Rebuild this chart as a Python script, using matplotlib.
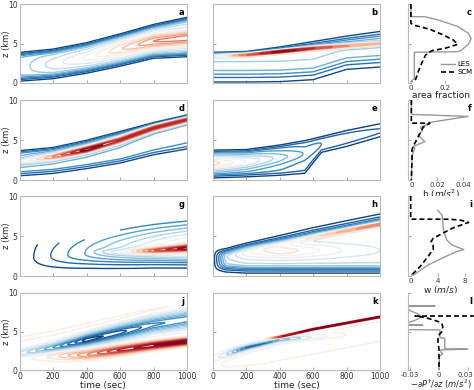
import numpy as np
import matplotlib
matplotlib.use("Agg")
import matplotlib.pyplot as plt
import matplotlib.transforms as mtransforms

# ---- time / height grid for the contour panels ----
t = np.linspace(0, 1000, 251)
z = np.linspace(0, 10, 401)
TT, ZZ = np.meshgrid(t, z)

# knots (time in s, heights in km, amplitudes relative)
tk = [0, 200, 400, 600, 800, 1000]

# a: LES area fraction
a_bot = [0.55, 0.9, 1.6, 2.5, 3.5, 3.7]
a_top = [3.6, 4.0, 4.8, 5.9, 7.1, 8.0]
a_core = [2.0, 2.4, 3.2, 4.3, 5.3, 5.7]
a_base = [0.35, 0.4, 0.42, 0.45, 0.45, 0.45]
a_peak = [0.0, 0.1, 0.2, 0.35, 0.5, 0.55]

# b: SCM area fraction
b_bot = [1.0, 1.0, 1.05, 1.3, 2.6, 2.9]
b_top = [3.75, 3.8, 4.3, 4.9, 5.5, 6.0]
b_topw = [0.08, 0.1, 0.15, 0.2, 0.25, 0.3]
b_core = [3.4, 3.6, 4.0, 4.4, 4.7, 5.0]
b_base = [0.3, 0.3, 0.3, 0.3, 0.3, 0.3]
b_peak = [0.1, 0.5, 0.7, 0.55, 0.4, 0.35]

# d: LES buoyancy
d_bot = [0.8, 1.1, 1.7, 2.4, 3.4, 4.1]
d_top = [3.5, 3.9, 4.8, 5.9, 7.0, 7.9]
d_core = [2.3, 2.9, 3.8, 5.0, 6.5, 7.6]
d_base = [0.25, 0.25, 0.25, 0.25, 0.22, 0.2]
d_peak = [0.2, 0.5, 0.75, 0.65, 0.7, 0.75]

# e: SCM buoyancy
tk_e = [0, 200, 400, 550, 650, 800, 1000]
e_bot = [0.55, 0.65, 0.8, 1.0, 3.6, 4.3, 5.5]
e_top = [3.5, 3.6, 4.2, 4.8, 5.3, 6.1, 7.0]
e_core = [2.1, 2.3, 2.8, 3.3, 4.5, 5.2, 6.0]
e_base = [0.3, 0.25, 0.2, 0.15, 0.12, 0.1, 0.08]
e_peak = [0.5, 0.35, 0.2, 0.12, 0.08, 0.06, 0.05]

# g: LES w (field cut above g_cut)
tk_cut = [0, 100, 200, 300, 400, 500, 700, 1000]
g_cut = [3.9, 3.95, 4.1, 4.25, 4.6, 5.1, 6.4, 7.4]
g_amp = [0.0, 0.2, 0.4, 0.6, 0.8, 1.0]
g_mid = [2.2, 2.5, 2.8, 3.0, 3.2, 3.3]
g_core = [3.0, 3.0, 3.0, 3.0, 3.2, 3.5]
g_peak = [0.0, 0.0, 0.0, 0.2, 0.6, 0.7]

# h: SCM w
tk_h = [0, 80, 200, 400, 600, 800, 1000]
h_amp = [0.0, 0.9, 1.0, 1.0, 1.0, 1.0, 1.0]
h_bot = [1.0, 1.0, 0.9, 0.9, 0.9, 0.9, 0.9]
h_top = [3.0, 3.0, 3.6, 4.5, 5.4, 6.2, 7.0]
h_topw = [0.2, 0.2, 0.22, 0.26, 0.3, 0.33, 0.35]
h_mid = [0.0, 0.1, 0.2, 0.3, 0.2, 0.1, 0.05]
h_up = [0.0, 0.0, 0.0, 0.1, 0.4, 0.6, 0.7]

# j: LES pressure gradient (negative band above, positive band below)
j_nc = [2.1, 2.9, 3.9, 4.9, 5.9, 6.6]
j_nw = [0.5, 0.6, 0.75, 0.9, 1.0, 1.1]
j_na = [0.3, 0.6, 1.0, 0.9, 0.7, 0.65]
j_pc = [1.8, 1.8, 2.0, 2.6, 3.2, 3.7]
j_pw = [0.6, 0.6, 0.6, 0.55, 0.5, 0.45]
j_pa = [0.05, 0.2, 0.5, 0.8, 0.95, 1.0]

# k: SCM pressure gradient
tk_k = [0, 100, 200, 300, 400, 600, 800, 1000]
k_nc = [1.4, 2.2, 2.9, 3.4, 3.9, 4.3, 4.5, 4.7]
k_nw = [0.5, 0.45, 0.35, 0.3, 0.3, 0.35, 0.4, 0.4]
k_na = [0.15, 0.4, 0.9, 0.9, 0.6, 0.25, 0.12, 0.05]
k_pc = [4.0, 4.0, 4.0, 4.0, 4.3, 5.3, 6.1, 6.9]
k_pa = [0.0, 0.0, 0.0, 0.0, 0.9, 1.0, 1.0, 1.0]
k_bc = [0.8, 1.0, 1.4, 1.8, 2.4, 3.3, 4.2, 5.0]
k_ba = [0.05, 0.08, 0.1, 0.12, 0.15, 0.18, 0.2, 0.2]

# ---- profiles at one time (right column) ----
c_les_x = [0, 0, 0.082, 0.161, 0.278, 0.337, 0.353, 0.341, 0.298, 0.278, 0.02, 0.02, 0.0]
c_les_z = [10, 8.4, 8.39, 7.97, 7.13, 6.29, 5.65, 5.02, 4.18, 3.97, 3.88, 0.59, 0.17]
c_scm_x = [0, 0, 0.014, 0.112, 0.19, 0.249, 0.275, 0.2, 0.122, 0.086, 0.063, 0.043, 0.028, 0.008]
c_scm_z = [10, 7.56, 7.34, 6.79, 6.08, 5.44, 4.89, 4.39, 4.09, 3.54, 2.49, 1.43, 0.47, 0.13]

f_les_x = [0, 0, 0.044, 0.0144, 0.0105, 0.007, 0.0087, 0.0053, 0.0105, 0.0014, 0.0027, 0.0005, 0.0]
f_les_z = [10, 8.2, 7.95, 7.2, 6.8, 6.6, 6.2, 5.6, 4.8, 4.2, 4.0, 3.0, 0]
f_scm_x = [0, 0, 0.0144, 0.0092, 0.0053, 0.0014, 0.0005, 0.0005, 0]
f_scm_z = [10, 7.1, 7.1, 6.6, 5.4, 4.2, 3.8, 2.6, 0]

i_les_x = [4.0, 4.6, 4.7, 4.8, 5.3, 6.0, 7.8, 6.6, 5.3, 3.8, 2.4, 0.9, 0.2]
i_les_z = [8.2, 7.6, 6.8, 5.8, 4.5, 3.9, 3.3, 3.0, 2.5, 1.9, 1.3, 0.4, 0.0]
i_scm_x = [0, 0, 5.8, 7.5, 8.5, 6.2, 4.6, 3.3, 3.0, 3.3, 3.3, 2.6, 1.4, 0]
i_scm_z = [10, 7.1, 7.1, 6.95, 6.7, 6.0, 5.3, 4.7, 4.3, 3.9, 3.3, 2.5, 1.2, 0]

l_les_x = [-0.035, -0.035, -0.004, -0.035, -0.03, -0.022, -0.018, -0.024, -0.033, -0.035,
           -0.017, -0.035, -0.035, 0.001, 0.001, 0.006, 0.006, 0.03, 0.002, 0.002, 0.004, 0.0005, 0.0]
l_les_z = [10, 8.35, 8.3, 8.25, 7.7, 7.3, 6.9, 6.5, 6.1, 5.9,
           5.85, 5.8, 5.25, 5.2, 4.2, 4.15, 2.75, 2.7, 2.62, 2.3, 2.1, 1.8, 0]
l_scm_x = [0.05, 0.05, -0.025, -0.02, -0.011, -0.001, 0.003, 0.004, 0.003, -0.001, -0.001, 0.0, 0.0]
l_scm_z = [10, 7.02, 7.0, 6.95, 6.7, 6.3, 6.0, 5.6, 5.0, 4.4, 3.6, 2.7, 0]


def kn(knots, vals):
    if np.isscalar(vals):
        return vals
    return np.interp(TT, knots, vals)


def sig(x):
    return 1.0 / (1.0 + np.exp(-np.clip(x, -50, 50)))


def plume(knots, zb, wb, zt, wt, zc, sc, base, peak):
    env = sig((ZZ - kn(knots, zb)) / kn(knots, wb)) * sig((kn(knots, zt) - ZZ) / kn(knots, wt))
    core = np.exp(-((ZZ - kn(knots, zc)) / kn(knots, sc)) ** 2)
    return env * (kn(knots, base) + kn(knots, peak) * core)


def gauss(knots, c, w, a):
    return kn(knots, a) * np.exp(-((ZZ - kn(knots, c)) / kn(knots, w)) ** 2)


fa = plume(tk, a_bot, 0.18, a_top, 0.15, a_core, 1.0, a_base, a_peak)
fb = plume(tk, b_bot, 0.5, b_top, b_topw, b_core, 0.25, b_base, b_peak)
fd = plume(tk, d_bot, 0.2, d_top, 0.12, d_core, 0.45, d_base, d_peak)
fe = plume(tk_e, e_bot, 0.15, e_top, 0.12, e_core, 0.9, e_base, e_peak)

# w: wide below the middle height, flatter above, cut at the cloud top
gm = kn(tk, g_mid)
gw = np.where(ZZ < gm, 1.47, 3.2)
fg = kn(tk, g_amp) * np.exp(-((ZZ - gm) / gw) ** 2) + gauss(tk, g_core, 0.35, g_peak)
fg[ZZ > kn(tk_cut, g_cut)] = np.nan

fh = kn(tk_h, h_amp) * sig((ZZ - kn(tk_h, h_bot)) / 0.25) * sig((kn(tk_h, h_top) - ZZ) / kn(tk_h, h_topw))
fh = fh * (0.45 + gauss(tk_h, 3.2, 1.0, h_mid)
           + kn(tk_h, h_up) * np.exp(-((ZZ - (kn(tk_h, h_top) - 0.5)) / 0.3) ** 2))

fj = (-gauss(tk, j_nc, j_nw, j_na) + gauss(tk, j_pc, j_pw, j_pa)
      + 0.08 * np.exp(-((ZZ - kn(tk, j_nc) - 1.9) / 0.5) ** 2))
fk = (-gauss(tk_k, k_nc, k_nw, k_na) + gauss(tk_k, k_pc, 0.1, k_pa)
      + gauss(tk_k, k_bc, 1.2, k_ba))

cmap = plt.cm.RdBu_r


def draw_pos(ax, f, n, cscale):
    vmax = np.nanmax(f)
    levels = np.linspace(0.05, 0.95, n) * vmax
    ax.contour(t, z, f, levels=levels, colors=cmap(levels / (vmax * cscale)), linewidths=1.0)


def draw_div(ax, f, n, cscale):
    vmax = np.nanmax(np.abs(f))
    half = np.linspace(0.06, 0.95, n) * vmax
    levels = np.concatenate([-half[::-1], half])
    ax.contour(t, z, f, levels=levels, colors=cmap(0.5 + levels / (2 * vmax * cscale)),
               linewidths=1.0, linestyles="solid")


fig = plt.figure(figsize=(4.74, 3.9), dpi=100)
W, H = 474.0, 390.0
rows = [(4, 83), (100, 180), (196, 276), (293, 370)]
cols = [(19.5, 187), (213, 380), (407.5, 474)]


def make_ax(r, c):
    top, bot = rows[r]
    left, right = cols[c]
    return fig.add_axes([left / W, 1 - bot / H, (right - left) / W, (bot - top) / H])


fields = [[fa, fb], [fd, fe], [fg, fh], [fj, fk]]
nlev = [[14, 14], [14, 10], [16, 14], [11, 8]]
cscales = [[1.25, 1.0], [1.0, 1.6], [1.0, 1.3], [1.0, 1.0]]
letters = [["a", "b", "c"], ["d", "e", "f"], ["g", "h", "i"], ["j", "k", "l"]]

for r in range(4):
    for c in range(2):
        ax = make_ax(r, c)
        if r < 3:
            draw_pos(ax, fields[r][c], nlev[r][c], cscales[r][c])
        else:
            draw_div(ax, fields[r][c], nlev[r][c], cscales[r][c])
        ax.set_xlim(0, 1000)
        ax.set_ylim(0, 10)
        ax.set_xticks([0, 200, 400, 600, 800, 1000])
        ax.set_yticks([0, 5, 10])
        for s in ax.spines.values():
            s.set_color("#bbbbbb")
            s.set_linewidth(0.8)
        ax.tick_params(direction="in", length=2, width=0.6, color="#999999",
                       labelsize=5.5, pad=1.5, labelcolor="#333333")
        if c == 1:
            ax.set_yticklabels([])
        else:
            ax.set_ylabel("z (km)", fontsize=6, color="#222222")
            ax.yaxis.set_label_coords(-0.05, 0.5)
        if r < 3:
            ax.set_xticklabels([])
        else:
            ax.set_xlabel("time (sec)", fontsize=6.5, labelpad=0, color="#222222")
        ax.text(0.985, 0.95, letters[r][c], transform=ax.transAxes, ha="right", va="top",
                fontsize=6, fontweight="bold")

profiles = [
    (c_les_x, c_les_z, c_scm_x, c_scm_z, (-0.02, 0.37), [0, 0.2], ["0", "0.2"], "area fraction"),
    (f_les_x, f_les_z, f_scm_x, f_scm_z, (-0.003, 0.0486), [0, 0.02, 0.04], ["0", "0.02", "0.04"],
     r"b ($m/s^2$)"),
    (i_les_x, i_les_z, i_scm_x, i_scm_z, (-0.47, 9.3), [0, 4, 8], ["0", "4", "8"], r"w ($m/s$)"),
    (l_les_x, l_les_z, l_scm_x, l_scm_z, (-0.0328, 0.0365), [-0.03, 0, 0.03],
     ["-0.03", "0", "0.03"], r"$-\partial P^{\dagger}/\partial z$ ($m/s^2$)"),
]

for r, (lx, lz, sx, sz, xl, xt, xtl, lab) in enumerate(profiles):
    ax = make_ax(r, 2)
    ax.plot(lx, lz, color="#999999", lw=1.0, label="LES")
    ax.plot(sx, sz, color="k", lw=1.2, ls=(0, (3, 1.8)), label="SCM")
    ax.set_xlim(*xl)
    ax.set_ylim(0, 10)
    ax.set_xticks(xt)
    ax.set_xticklabels(xtl)
    ax.set_yticks([0, 5, 10])
    ax.set_yticklabels([])
    for side in ["top", "right", "bottom"]:
        ax.spines[side].set_visible(False)
    ax.spines["left"].set_color("#bbbbbb")
    ax.spines["left"].set_linewidth(0.8)
    ax.tick_params(direction="in", length=2, width=0.6, color="#999999",
                   labelsize=5, pad=1.5, labelcolor="#333333")
    ax.set_xlabel(lab, fontsize=6 if r == 3 else 6.5, labelpad=0, color="#222222")
    ax.text(0.97, 0.95, letters[r][2], transform=ax.transAxes, ha="right", va="top",
            fontsize=6, fontweight="bold")
    if r == 3:
        # keep the last tick label inside the figure
        last = ax.get_xticklabels()[-1]
        last.set_horizontalalignment("right")
        last.set_transform(last.get_transform()
                           + mtransforms.ScaledTranslation(0.055, 0, fig.dpi_scale_trans))
    if r == 0:
        ax.legend(loc="lower right", fontsize=5, frameon=False, handlelength=2.0,
                  handletextpad=0.4, borderaxespad=0.0, borderpad=0.2, labelspacing=0.3,
                  bbox_to_anchor=(1.0, 0.08))

fig.savefig("out.png", dpi=100)
